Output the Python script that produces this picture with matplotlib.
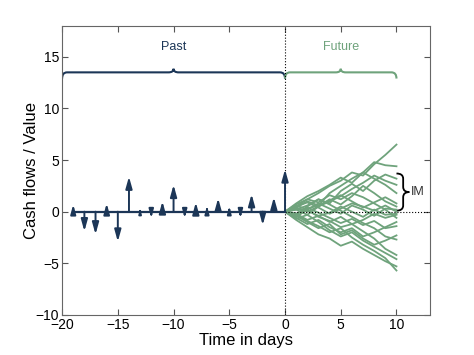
import numpy as np
import matplotlib.pyplot as plt
from matplotlib.path import Path
from matplotlib.patches import PathPatch

plt.rcParams['font.family'] = ['Liberation Sans', 'DejaVu Sans']

navy = '#1c3657'
green = '#6fa37c'

# past cash flows, one per day
past_days = list(range(-19, 1))
past_flows = [0.7, -1.9, -2.2, 0.8, -2.9, 3.4, 0.3, -0.6, 1.0, 2.6,
              -0.6, 0.9, 0.55, 1.3, 0.5, -0.6, 1.7, -1.3, 1.4, 4.1]

# simulated future values (days 1..10, each starts at 0 on day 0)
future_days = list(range(0, 11))
paths = [
    [0.5, 1.2, 1.8, 2.5, 3.0, 3.8, 3.5, 4.6, 5.5, 6.5],
    [0.8, 1.5, 2.0, 2.6, 3.3, 2.8, 3.8, 4.8, 4.5, 4.4],
    [0.4, 1.0, 0.6, 1.8, 2.5, 3.2, 3.8, 3.2, 2.6, 1.8],
    [-0.3, 0.5, 1.2, 0.8, 2.0, 2.7, 2.0, 3.0, 3.6, 3.2],
    [0.2, -0.3, 0.5, 1.2, 0.7, 1.5, 2.5, 1.8, 1.0, 0.5],
    [-0.5, 0.2, 0.8, 0.3, -0.2, 0.6, 0.2, -0.4, 0.3, 0.2],
    [0.3, 0.1, -0.4, -0.1, 0.5, 0.0, -0.5, 0.2, -0.3, -0.2],
    [-0.2, -0.8, -0.4, -1.0, -0.5, -1.2, -0.8, -0.2, -0.6, -0.3],
    [0.5, 0.9, 0.4, -0.2, 0.3, 0.8, 0.5, 0.1, 0.6, 0.0],
    [-0.6, -1.2, -0.8, -1.5, -2.0, -1.6, -2.4, -2.0, -1.5, -1.0],
    [-0.4, -1.0, -1.6, -1.2, -2.2, -1.8, -2.6, -3.2, -2.8, -2.3],
    [-0.8, -1.5, -2.2, -2.6, -3.3, -2.9, -3.6, -4.2, -4.8, -5.3],
    [-0.3, -0.9, -1.4, -2.0, -1.6, -2.5, -3.2, -3.8, -4.5, -5.7],
    [-0.7, -0.3, -1.0, -1.8, -2.4, -2.0, -2.8, -3.4, -4.0, -4.6],
    [0.6, 0.2, -0.5, -0.9, -1.5, -1.2, -1.9, -2.6, -3.6, -4.2],
    [0.2, 0.6, 1.2, 0.7, 0.1, -0.5, -1.1, -1.6, -2.4, -2.7],
    [-0.5, 0.3, 0.6, 1.1, 1.6, 1.0, 0.4, 0.9, 1.4, 0.8],
    [0.4, 0.0, 0.5, 1.0, 1.5, 2.2, 2.8, 3.5, 3.0, 2.6],
    [-0.2, 0.4, -0.1, -0.6, -1.1, -0.7, -1.3, -0.9, -1.6, -1.4],
    [0.7, 1.2, 0.9, 1.6, 1.2, 1.8, 1.4, 0.8, 0.2, -0.6],
]


def hbrace(ax, x0, x1, y, d, t, r, color):
    xm = (x0 + x1) / 2
    verts = [(x0, y - d), (x0, y), (x0 + r, y), (xm - r, y),
             (xm, y), (xm, y + t), (xm, y), (xm + r, y),
             (x1 - r, y), (x1, y), (x1, y - d)]
    codes = [Path.MOVETO, Path.CURVE3, Path.CURVE3, Path.LINETO,
             Path.CURVE3, Path.CURVE3, Path.CURVE3, Path.CURVE3,
             Path.LINETO, Path.CURVE3, Path.CURVE3]
    ax.add_patch(PathPatch(Path(verts, codes), fc='none', ec=color, lw=1.5))


def vbrace(ax, y0, y1, x0, d, t, r, color):
    ym = (y0 + y1) / 2
    x = x0 + d
    verts = [(x0, y0), (x, y0), (x, y0 + r), (x, ym - r),
             (x, ym), (x + t, ym), (x, ym), (x, ym + r),
             (x, y1 - r), (x, y1), (x0, y1)]
    codes = [Path.MOVETO, Path.CURVE3, Path.CURVE3, Path.LINETO,
             Path.CURVE3, Path.CURVE3, Path.CURVE3, Path.CURVE3,
             Path.LINETO, Path.CURVE3, Path.CURVE3]
    ax.add_patch(PathPatch(Path(verts, codes), fc='none', ec=color, lw=1.3))


fig = plt.figure(figsize=(4.74, 3.55), dpi=100)
ax = fig.add_axes([0.131, 0.113, 0.776, 0.814])

for p in paths:
    ax.plot(future_days, [0] + p, color=green, lw=1.3)

ax.axvline(0, color='black', ls=':', lw=0.8)
ax.plot([0, 13], [0, 0], color='black', ls=':', lw=0.8)
ax.plot([-19, 0], [0, 0], color=navy, lw=1.6)

for d, v in zip(past_days, past_flows):
    ms = min(7.0, 7.0 * abs(v) / 0.9)
    ax.annotate('', xy=(d, v), xytext=(d, 0),
                arrowprops=dict(arrowstyle='-|>,head_length=1.0,head_width=0.28',
                                color=navy, lw=1.4, shrinkA=0, shrinkB=0,
                                mutation_scale=ms))

hbrace(ax, -20, 0, 13.5, 0.6, 0.35, 0.45, navy)
hbrace(ax, 0, 10, 13.5, 0.6, 0.35, 0.45, green)
ax.text(-10, 16, 'Past', color=navy, ha='center', va='center', fontsize=9)
ax.text(5, 16, 'Future', color=green, ha='center', va='center', fontsize=9)

vbrace(ax, 0.1, 3.7, 10.0, 0.6, 0.55, 0.5, 'black')
ax.text(11.3, 1.9, 'IM', ha='left', va='center', fontsize=9, color='#333333')

ax.set_xlim(-20, 13)
ax.set_ylim(-10, 18)
ax.set_xticks([-20, -15, -10, -5, 0, 5, 10])
ax.set_yticks([-10, -5, 0, 5, 10, 15])
ax.tick_params(direction='in', top=True, right=True, labelsize=10, length=4,
               color='#555555', pad=2)
for s in ax.spines.values():
    s.set_color('#666666')
ax.set_xlabel('Time in days', fontsize=12, labelpad=1)
ax.set_ylabel('Cash flows / Value', fontsize=12, labelpad=0)
ax.yaxis.set_label_coords(-0.064, 0.5)

fig.savefig('out.png', dpi=100)
